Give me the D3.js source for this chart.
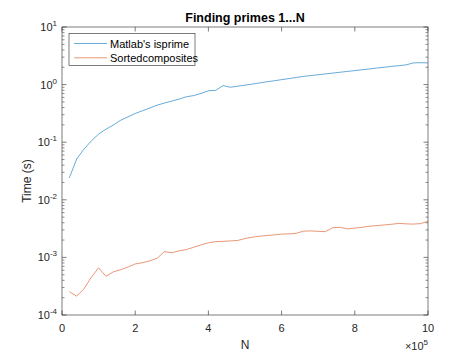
<!DOCTYPE html>
<html><head><meta charset="utf-8">
<script src="https://cdn.jsdelivr.net/npm/d3@7"></script>
<style>
html,body{margin:0;padding:0;background:#fff;}
svg{display:block;font-family:"Liberation Sans",Arial,Helvetica,sans-serif;}
</style></head>
<body>
<svg id="chart" width="474" height="355"></svg>
<script>
// ---- data ----
const nValues = [20000,40000,60000,80000,100000,120000,140000,160000,180000,200000,
  220000,240000,260000,280000,300000,320000,340000,360000,380000,400000,
  420000,440000,460000,480000,500000,520000,540000,560000,580000,600000,
  620000,640000,660000,680000,700000,720000,740000,760000,780000,800000,
  820000,840000,860000,880000,900000,920000,940000,960000,980000,1000000];
const isprimeTimes = [0.024,0.051,0.076,0.105,0.138,0.168,0.198,0.240,0.275,0.315,
  0.352,0.392,0.440,0.478,0.518,0.560,0.615,0.645,0.705,0.780,
  0.795,0.960,0.900,0.937,0.980,1.02,1.07,1.12,1.165,1.22,
  1.27,1.33,1.39,1.435,1.48,1.535,1.585,1.64,1.695,1.75,
  1.81,1.87,1.94,2.00,2.07,2.13,2.20,2.38,2.40,2.38];
const sortedTimes = [2.55e-4,2.12e-4,2.85e-4,4.5e-4,6.6e-4,4.7e-4,5.6e-4,6.1e-4,6.8e-4,7.7e-4,
  8.1e-4,8.7e-4,9.7e-4,1.26e-3,1.20e-3,1.30e-3,1.37e-3,1.50e-3,1.65e-3,1.79e-3,
  1.88e-3,1.90e-3,1.93e-3,1.97e-3,2.12e-3,2.25e-3,2.33e-3,2.40e-3,2.46e-3,2.54e-3,
  2.56e-3,2.62e-3,2.86e-3,2.88e-3,2.84e-3,2.80e-3,3.29e-3,3.33e-3,3.13e-3,3.23e-3,
  3.33e-3,3.47e-3,3.56e-3,3.66e-3,3.76e-3,3.89e-3,3.82e-3,3.79e-3,3.86e-3,4.24e-3];
const seriesNames = ["Matlab's isprime","Sortedcomposites"];
const xTickValues = [0,200000,400000,600000,800000,1000000];
const xTickLabels = ["0","2","4","6","8","10"];
const yTickExponents = [-4,-3,-2,-1,0,1];
const titleText = "Finding primes 1...N";
const xLabelText = "N";
const yLabelText = "Time (s)";

// ---- layout ----
const L=62, R=428, T=27, B=315;
const ink="#262626";
const colors=["#0072BD","#D95319"];
const svg=d3.select("#chart");
const x=d3.scaleLinear().domain([0,1000000]).range([L,R]);
const y=d3.scaleLog().domain([1e-4,10]).range([B,T]);

// box
svg.append("rect").attr("x",L).attr("y",T).attr("width",R-L).attr("height",B-T)
  .attr("fill","#fff").attr("stroke",ink).attr("stroke-width",0.6);

// x ticks (inward, bottom and top)
const gx=svg.append("g");
xTickValues.forEach((v,i)=>{
  const px=x(v);
  gx.append("line").attr("x1",px).attr("x2",px).attr("y1",B).attr("y2",B-4.5).attr("stroke",ink).attr("stroke-width",0.6);
  gx.append("line").attr("x1",px).attr("x2",px).attr("y1",T).attr("y2",T+4.5).attr("stroke",ink).attr("stroke-width",0.6);
  gx.append("text").attr("x",px).attr("y",B+17).attr("text-anchor","middle")
    .attr("font-size",11).attr("fill",ink).text(xTickLabels[i]);
});
// y ticks major + minor
const gy=svg.append("g");
yTickExponents.forEach(e=>{
  const v=Math.pow(10,e);
  const py=y(v);
  gy.append("line").attr("x1",L).attr("x2",L+4.5).attr("y1",py).attr("y2",py).attr("stroke",ink).attr("stroke-width",0.6);
  gy.append("line").attr("x1",R).attr("x2",R-4.5).attr("y1",py).attr("y2",py).attr("stroke",ink).attr("stroke-width",0.6);
  const t=gy.append("text").attr("x",L-5).attr("y",py+4).attr("text-anchor","end")
    .attr("font-size",11).attr("fill",ink);
  t.append("tspan").text("10");
  t.append("tspan").attr("dy",-5).attr("font-size",8).text(String(e).replace("-","-"));
  if(e<1){
    for(let m=2;m<=9;m++){
      const pm=y(m*v);
      gy.append("line").attr("x1",L).attr("x2",L+2.5).attr("y1",pm).attr("y2",pm).attr("stroke",ink).attr("stroke-width",0.5);
      gy.append("line").attr("x1",R).attr("x2",R-2.5).attr("y1",pm).attr("y2",pm).attr("stroke",ink).attr("stroke-width",0.5);
    }
  }
});

// lines
const line=d3.line().x((d,i)=>x(nValues[i])).y(d=>y(d));
[isprimeTimes,sortedTimes].forEach((s,i)=>{
  svg.append("path").attr("d",line(s)).attr("fill","none")
    .attr("stroke",colors[i]).attr("stroke-width",0.8).attr("stroke-opacity",0.75);
});

// title, labels
svg.append("text").attr("x",(L+R)/2).attr("y",22).attr("text-anchor","middle")
  .attr("font-size",12.5).attr("font-weight","bold").attr("fill","#000").text(titleText);
svg.append("text").attr("x",(L+R)/2).attr("y",349).attr("text-anchor","middle")
  .attr("font-size",12).attr("fill",ink).text(xLabelText);
svg.append("text").attr("transform","translate(31,181) rotate(-90)").attr("text-anchor","middle")
  .attr("font-size",12).attr("fill",ink).text(yLabelText);
const ex=svg.append("text").attr("x",R).attr("y",350).attr("text-anchor","end").attr("font-size",11).attr("fill",ink);
ex.append("tspan").text("\u00d710");
ex.append("tspan").attr("dy",-5).attr("font-size",8).text("5");

// legend
const lg=svg.append("g");
lg.append("rect").attr("x",69).attr("y",33.5).attr("width",126).attr("height",32)
  .attr("fill","#fff").attr("stroke",ink).attr("stroke-width",0.6);
seriesNames.forEach((n,i)=>{
  const ly=43.5+i*14.3;
  lg.append("line").attr("x1",74).attr("x2",107).attr("y1",ly).attr("y2",ly)
    .attr("stroke",colors[i]).attr("stroke-width",0.8).attr("stroke-opacity",0.75);
  lg.append("text").attr("x",110).attr("y",ly+4).attr("font-size",11).attr("fill","#000").text(n);
});
</script>
</body></html>
